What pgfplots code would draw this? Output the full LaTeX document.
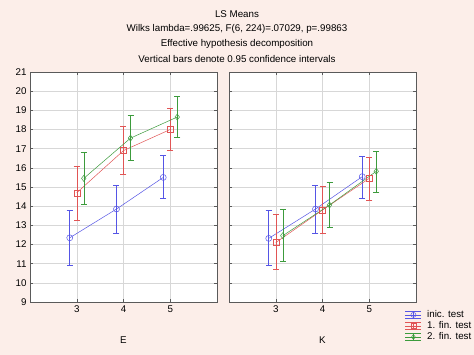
\documentclass[border=0pt]{standalone}
\usepackage{pgfplots}
\pgfplotsset{compat=1.18}
\usepackage{fontspec}
\setmainfont{Liberation Sans}
\definecolor{bgpink}{RGB}{252,238,233}
\definecolor{sblue}{RGB}{85,85,230}
\definecolor{sred}{RGB}{225,85,85}
\definecolor{sgreen}{RGB}{60,155,60}
\definecolor{frame}{RGB}{90,90,90}
\definecolor{gridc}{RGB}{215,215,215}
\begin{document}
\begin{tikzpicture}[font=\fontsize{9.8}{11}\selectfont]
\fill[bgpink] (0bp,0bp) rectangle (474bp,355bp);
\useasboundingbox (0bp,0bp) rectangle (474bp,355bp);
\node at (237bp,341bp) {LS Means};
\node at (237bp,326bp) {Wilks lambda=.99625, F(6, 224)=.07029, p=.99863};
\node at (237bp,311bp) {Effective hypothesis decomposition};
\node at (237bp,296bp) {Vertical bars denote 0.95 confidence intervals};
\pgfplotsset{
  every axis/.append style={
    scale only axis, width=187bp, height=230bp,
    xmin=2, xmax=6, ymin=9, ymax=21,
    xtick={3,4,5}, ytick={9,10,...,21},
    grid=major, major grid style={gridc, line width=0.4pt},
    axis line style={frame, line width=0.6pt},
    tick style={frame, line width=0.4pt}, major tick length=3bp,
    tick align=inside,
    axis background/.style={fill=white},
    tick label style={font=\fontsize{9.8}{11}\selectfont},
    /pgf/number format/assume math mode=true,
    xlabel style={at={(axis description cs:0.5,0)}, yshift=-38bp, anchor=center},
    legend image code/.code={
      \draw (0bp,0bp) -- (16bp,0bp);
      \draw (8bp,-3.5bp) -- (8bp,3.5bp);
      \draw (0bp,3.5bp) -- (16bp,3.5bp);
      \draw (0bp,-3.5bp) -- (16bp,-3.5bp);
      \draw plot[mark size=2.5bp] coordinates {(8bp,0bp)};
    },
  },
  ser/.style={line width=0.5pt, mark size=3bp, mark options={solid, fill=white},
    error bars/.cd, y dir=both, y explicit,
    error bar style={line width=0.5pt},
    error mark options={rotate=90, mark size=3bp, line width=0.5pt}},
}
\begin{axis}[at={(30bp,53bp)}, anchor=south west, xlabel={E}]
\addplot[color=sblue, mark=o, ser] table[x=x, y=y, y error plus=ep, y error minus=em] {
x y ep em
2.85 12.35 1.45 1.45
3.85 13.85 1.25 1.25
4.85 15.50 1.15 1.10
};
\addplot[color=sred, mark=square, ser] table[x=x, y=y, y error plus=ep, y error minus=em] {
x y ep em
3.00 14.70 1.40 1.45
4.00 16.90 1.25 1.25
5.00 18.00 1.10 1.10
};
\addplot[color=sgreen, mark=diamond, ser] table[x=x, y=y, y error plus=ep, y error minus=em] {
x y ep em
3.15 15.45 1.35 1.35
4.15 17.55 1.20 1.15
5.15 18.65 1.10 1.05
};
\end{axis}
\begin{axis}[at={(229bp,53bp)}, anchor=south west, xlabel={K}, yticklabels={},
  legend style={at={(axis description cs:0.941,-0.03)}, anchor=north west,
    draw=none, fill=none, font=\fontsize{9.8}{11}\selectfont,
    row sep=-0.5bp, inner sep=0pt, nodes={inner sep=1.5bp},
    /tikz/every odd column/.append style={column sep=4bp}},
  legend cell align=left]
\addplot[color=sblue, mark=o, ser] table[x=x, y=y, y error plus=ep, y error minus=em] {
x y ep em
2.85 12.32 1.45 1.42
3.85 13.85 1.24 1.25
4.85 15.54 1.09 1.11
};
\addlegendentry{inic. test}
\addplot[color=sred, mark=square, ser] table[x=x, y=y, y error plus=ep, y error minus=em] {
x y ep em
3.00 12.10 1.46 1.40
4.00 13.80 1.22 1.23
5.00 15.45 1.10 1.13
};
\addlegendentry{1. fin. test}
\addplot[color=sgreen, mark=diamond, ser] table[x=x, y=y, y error plus=ep, y error minus=em] {
x y ep em
3.15 12.46 1.36 1.34
4.15 14.06 1.17 1.18
5.15 15.82 1.04 1.08
};
\addlegendentry{2. fin. test}
\end{axis}
\end{tikzpicture}
\end{document}
